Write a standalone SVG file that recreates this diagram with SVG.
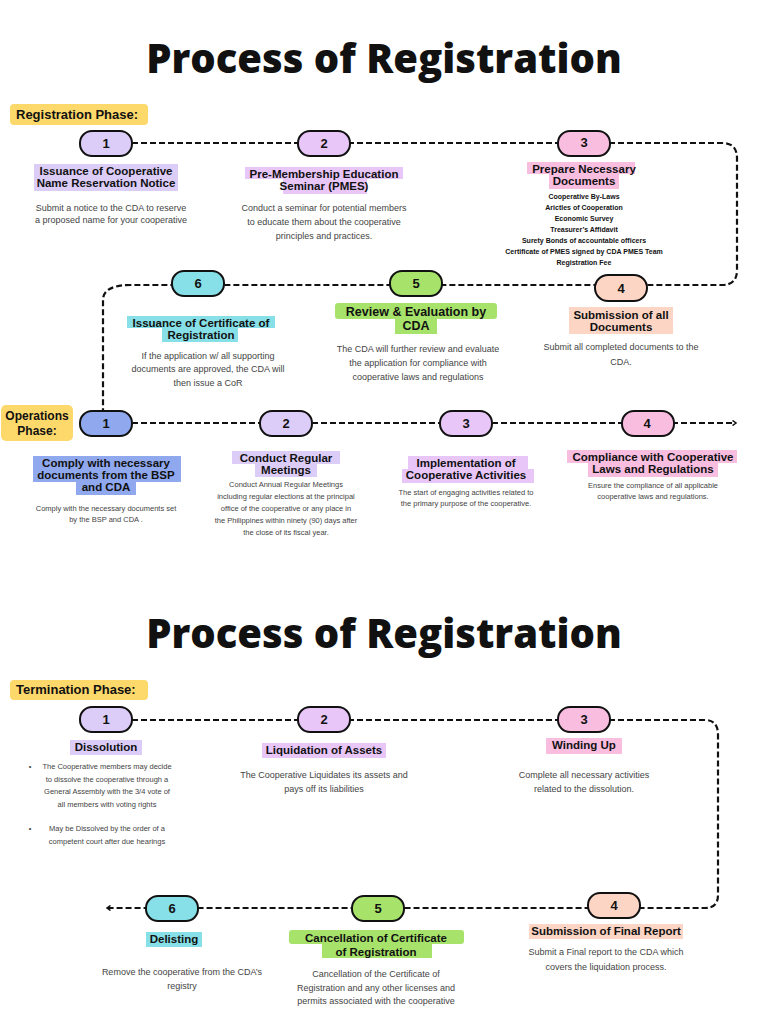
<svg xmlns="http://www.w3.org/2000/svg" width="768" height="1024" viewBox="0 0 768 1024">
<style>
.t{font-family:"Open Sans","Liberation Sans",sans-serif;font-weight:800;font-size:40px;fill:#111;text-anchor:middle}
.ph{font-family:"Liberation Sans",sans-serif;font-weight:bold;font-size:13px;fill:#111}
.p{stroke:#111;stroke-width:2}
.n{font-family:"Liberation Sans",sans-serif;font-weight:bold;font-size:13px;fill:#111;text-anchor:middle}
.h{font-family:"Liberation Sans",sans-serif;font-weight:bold;font-size:11.5px;fill:#111;text-anchor:middle}
.d{font-family:"Liberation Sans",sans-serif;font-size:9px;fill:#444;text-anchor:middle}
.s{font-family:"Liberation Sans",sans-serif;font-weight:bold;font-size:7px;fill:#111;text-anchor:middle}
.c{fill:none;stroke:#111;stroke-width:2.2;stroke-dasharray:6 3}
.c1{fill:#dccdf8}.c2{fill:#e8c6f8}.c3{fill:#f9bde0}.c4{fill:#fdd5c5}.c5{fill:#a7e36b}.c6{fill:#87e0e7}.cb{fill:#8fa8ee}.cy{fill:#fdd96b}
</style>
<defs><marker id="ar" markerWidth="6" markerHeight="6" refX="4" refY="3" orient="auto" markerUnits="userSpaceOnUse"><path d="M0.5,0.5 L4,3 L0.5,5.5" fill="none" stroke="#111" stroke-width="1.5"/></marker></defs>

<text class="t" x="384" y="73">Process of Registration</text>
<text class="t" x="384" y="648">Process of Registration</text>

<g id="connectors">
<path class="c" d="M132,143 H722 Q737,143 737,158 V270 Q737,285 722,285 H131 Q103,285 103,300 V410"/>
<path class="c" d="M132,423 H736" marker-end="url(#ar)"/>
<path class="c" d="M132,720 H705 Q718,720 718,735 V895 Q718,908 705,908 H107" marker-end="url(#ar)"/>
</g>

<g id="phase-reg"><rect class="cy" x="10" y="104" width="138" height="21" rx="4"/><text class="ph" x="16" y="119">Registration Phase:</text></g>
<g id="phase-op"><rect class="cy" x="1" y="405" width="72" height="36" rx="5"/><text class="ph" x="37" y="420" text-anchor="middle" style="font-size:12px">Operations</text><text class="ph" x="37" y="435" text-anchor="middle" style="font-size:12px">Phase:</text></g>
<g id="phase-term"><rect class="cy" x="10" y="680" width="138" height="20" rx="4"/><text class="ph" x="16" y="694">Termination Phase:</text></g>

<g id="r1"><rect class="p c1" x="80" y="131" width="52" height="25" rx="12"/><text class="n" x="106" y="148">1</text>
<rect class="c1" x="34" y="164" width="144" height="27"/><text class="h" x="106" y="175">Issuance of Cooperative</text><text class="h" x="106" y="187">Name Reservation Notice</text>
<text class="d" x="111" y="211">Submit a notice to the CDA to reserve</text><text class="d" x="111" y="223">a proposed name for your cooperative</text></g>

<g id="r2"><rect class="p c2" x="298" y="131" width="52" height="25" rx="12"/><text class="n" x="324" y="148">2</text>
<rect class="c2" x="245" y="167" width="158" height="12"/><rect class="c2" x="283" y="179" width="84" height="15"/>
<text class="h" x="324" y="178">Pre-Membership Education</text><text class="h" x="324" y="190">Seminar (PMES)</text>
<text class="d" x="324" y="211">Conduct a seminar for potential members</text><text class="d" x="324" y="225">to educate them about the cooperative</text><text class="d" x="324" y="239">principles and practices.</text></g>

<g id="r3"><rect class="p c3" x="558" y="131" width="52" height="25" rx="12"/><text class="n" x="584" y="147">3</text>
<rect class="c3" x="527" y="162" width="108" height="12"/><rect class="c3" x="549" y="174" width="70" height="15"/>
<text class="h" x="584" y="173">Prepare Necessary</text><text class="h" x="584" y="185">Documents</text>
<text class="s" x="584" y="199">Cooperative By-Laws</text><text class="s" x="584" y="210">Arictles of Cooperation</text><text class="s" x="584" y="221">Economic Survey</text><text class="s" x="584" y="232">Treasurer’s Affidavit</text><text class="s" x="584" y="243">Surety Bonds of accountable officers</text><text class="s" x="584" y="254">Certificate of PMES signed by CDA PMES Team</text><text class="s" x="584" y="265">Registration Fee</text></g>

<g id="r4"><rect class="p c4" x="595" y="275" width="52" height="26" rx="13"/><text class="n" x="621" y="293">4</text>
<rect class="c4" x="569" y="307" width="104" height="27"/><text class="h" x="621" y="319">Submission of all</text><text class="h" x="621" y="331">Documents</text>
<text class="d" x="621" y="350">Submit all completed documents to the</text><text class="d" x="621" y="365">CDA.</text></g>

<g id="r5"><rect class="p c5" x="390" y="271" width="52" height="25" rx="12"/><text class="n" x="416" y="288">5</text>
<rect class="c5" x="335" y="303" width="162" height="16" rx="3"/><rect class="c5" x="395" y="318" width="42" height="16"/>
<text class="h" x="416" y="316" style="font-size:12.5px">Review &amp; Evaluation by</text><text class="h" x="416" y="330" style="font-size:12.5px">CDA</text>
<text class="d" x="418" y="352">The CDA will further review and evaluate</text><text class="d" x="418" y="366">the application for compliance with</text><text class="d" x="418" y="380">cooperative laws and regulations</text></g>

<g id="r6"><rect class="p c6" x="172" y="271" width="52" height="25" rx="12"/><text class="n" x="198" y="288">6</text>
<rect class="c6" x="127" y="316" width="148" height="12"/><rect class="c6" x="162" y="328" width="76" height="14"/>
<text class="h" x="201" y="327">Issuance of Certificate of</text><text class="h" x="201" y="339">Registration</text>
<text class="d" x="208" y="359">If the application w/ all supporting</text><text class="d" x="208" y="372">documents are approved, the CDA will</text><text class="d" x="208" y="386">then issue a CoR</text></g>

<g id="o1"><rect class="p cb" x="80" y="411" width="52" height="25" rx="12"/><text class="n" x="106" y="428">1</text>
<rect class="cb" x="33" y="456" width="148" height="26"/><rect class="cb" x="76" y="482" width="60" height="13"/>
<text class="h" x="106" y="467">Comply with necessary</text><text class="h" x="106" y="479">documents from the BSP</text><text class="h" x="106" y="491">and CDA</text>
<text class="d" x="106" y="511" style="font-size:7.5px">Comply with the necessary documents set</text><text class="d" x="106" y="522" style="font-size:7.5px">by the BSP and CDA .</text></g>

<g id="o2"><rect class="p c1" x="260" y="411" width="52" height="25" rx="12"/><text class="n" x="286" y="428">2</text>
<rect class="c1" x="232" y="451" width="108" height="13"/><rect class="c1" x="255" y="464" width="62" height="13"/>
<text class="h" x="286" y="462">Conduct Regular</text><text class="h" x="286" y="474">Meetings</text>
<text class="d" x="286" y="487" style="font-size:7.5px">Conduct Annual  Regular Meetings</text><text class="d" x="286" y="499" style="font-size:7.5px">including regular elections at the principal</text><text class="d" x="286" y="511" style="font-size:7.5px">office of the cooperative or any place in</text><text class="d" x="286" y="523" style="font-size:7.5px">the Philippines within ninety (90) days after</text><text class="d" x="286" y="535" style="font-size:7.5px">the close of its fiscal year.</text></g>

<g id="o3"><rect class="p c2" x="440" y="411" width="52" height="25" rx="12"/><text class="n" x="466" y="428">3</text>
<rect class="c2" x="408" y="456" width="120" height="13"/><rect class="c2" x="402" y="469" width="132" height="14"/>
<text class="h" x="466" y="467">Implementation of</text><text class="h" x="466" y="479">Cooperative Activities</text>
<text class="d" x="466" y="495" style="font-size:7.5px">The start of engaging activities related to</text><text class="d" x="466" y="506" style="font-size:7.5px">the primary purpose of the cooperative.</text></g>

<g id="o4"><rect class="p c3" x="622" y="411" width="52" height="25" rx="12"/><text class="n" x="647" y="428">4</text>
<rect class="c3" x="567" y="450" width="170" height="13"/><rect class="c3" x="588" y="463" width="130" height="14"/>
<text class="h" x="653" y="461">Compliance with Cooperative</text><text class="h" x="653" y="473">Laws and Regulations</text>
<text class="d" x="653" y="488" style="font-size:7.5px">Ensure the compliance of all applicable</text><text class="d" x="653" y="499" style="font-size:7.5px">cooperative laws and regulations.</text></g>

<g id="t1"><rect class="p c1" x="80" y="707" width="52" height="25" rx="12"/><text class="n" x="106" y="724">1</text>
<rect class="c1" x="70" y="740" width="72" height="15"/><text class="h" x="106" y="751">Dissolution</text>
<g class="d" style="font-size:7.5px"><text x="30" y="769">•</text><text x="107" y="769">The Cooperative members may decide</text><text x="107" y="782">to dissolve the cooperative through a</text><text x="107" y="794">General Assembly with the 3/4 vote of</text><text x="107" y="807">all members with voting rights</text>
<text x="30" y="831">•</text><text x="107" y="831">May be Dissolved by the order of a</text><text x="107" y="844">competent court after due hearings</text></g></g>

<g id="t2"><rect class="p c2" x="298" y="707" width="52" height="25" rx="12"/><text class="n" x="324" y="724">2</text>
<rect class="c2" x="262" y="743" width="124" height="15"/><text class="h" x="324" y="754">Liquidation of Assets</text>
<text class="d" x="324" y="778">The Cooperative Liquidates its assets and</text><text class="d" x="324" y="792">pays off its liabilities</text></g>

<g id="t3"><rect class="p c3" x="558" y="707" width="52" height="25" rx="12"/><text class="n" x="584" y="724">3</text>
<rect class="c3" x="546" y="738" width="76" height="16"/><text class="h" x="584" y="749">Winding Up</text>
<text class="d" x="584" y="778">Complete all necessary activities</text><text class="d" x="584" y="792">related to the dissolution.</text></g>

<g id="t4"><rect class="p c4" x="588" y="893" width="52" height="25" rx="12"/><text class="n" x="614" y="910">4</text>
<rect class="c4" x="529" y="924" width="154" height="15"/><text class="h" x="606" y="935">Submission of Final Report</text>
<text class="d" x="606" y="955">Submit a Final report to the CDA which</text><text class="d" x="606" y="970">covers the liquidation process.</text></g>

<g id="t5"><rect class="p c5" x="352" y="896" width="52" height="25" rx="12"/><text class="n" x="378" y="913">5</text>
<rect class="c5" x="289" y="930" width="175" height="14" rx="3"/><rect class="c5" x="322" y="944" width="110" height="14"/>
<text class="h" x="376" y="942">Cancellation of Certificate</text><text class="h" x="376" y="956">of Registration</text>
<text class="d" x="376" y="977">Cancellation of the Certificate of</text><text class="d" x="376" y="991">Registration and any other licenses and</text><text class="d" x="376" y="1004">permits associated with the cooperative</text></g>

<g id="t6"><rect class="p c6" x="146" y="896" width="52" height="25" rx="12"/><text class="n" x="172" y="913">6</text>
<rect class="c6" x="146" y="932" width="56" height="15"/><text class="h" x="174" y="943">Delisting</text>
<text class="d" x="182" y="975">Remove the cooperative from the CDA’s</text><text class="d" x="182" y="989">registry</text></g>
</svg>
